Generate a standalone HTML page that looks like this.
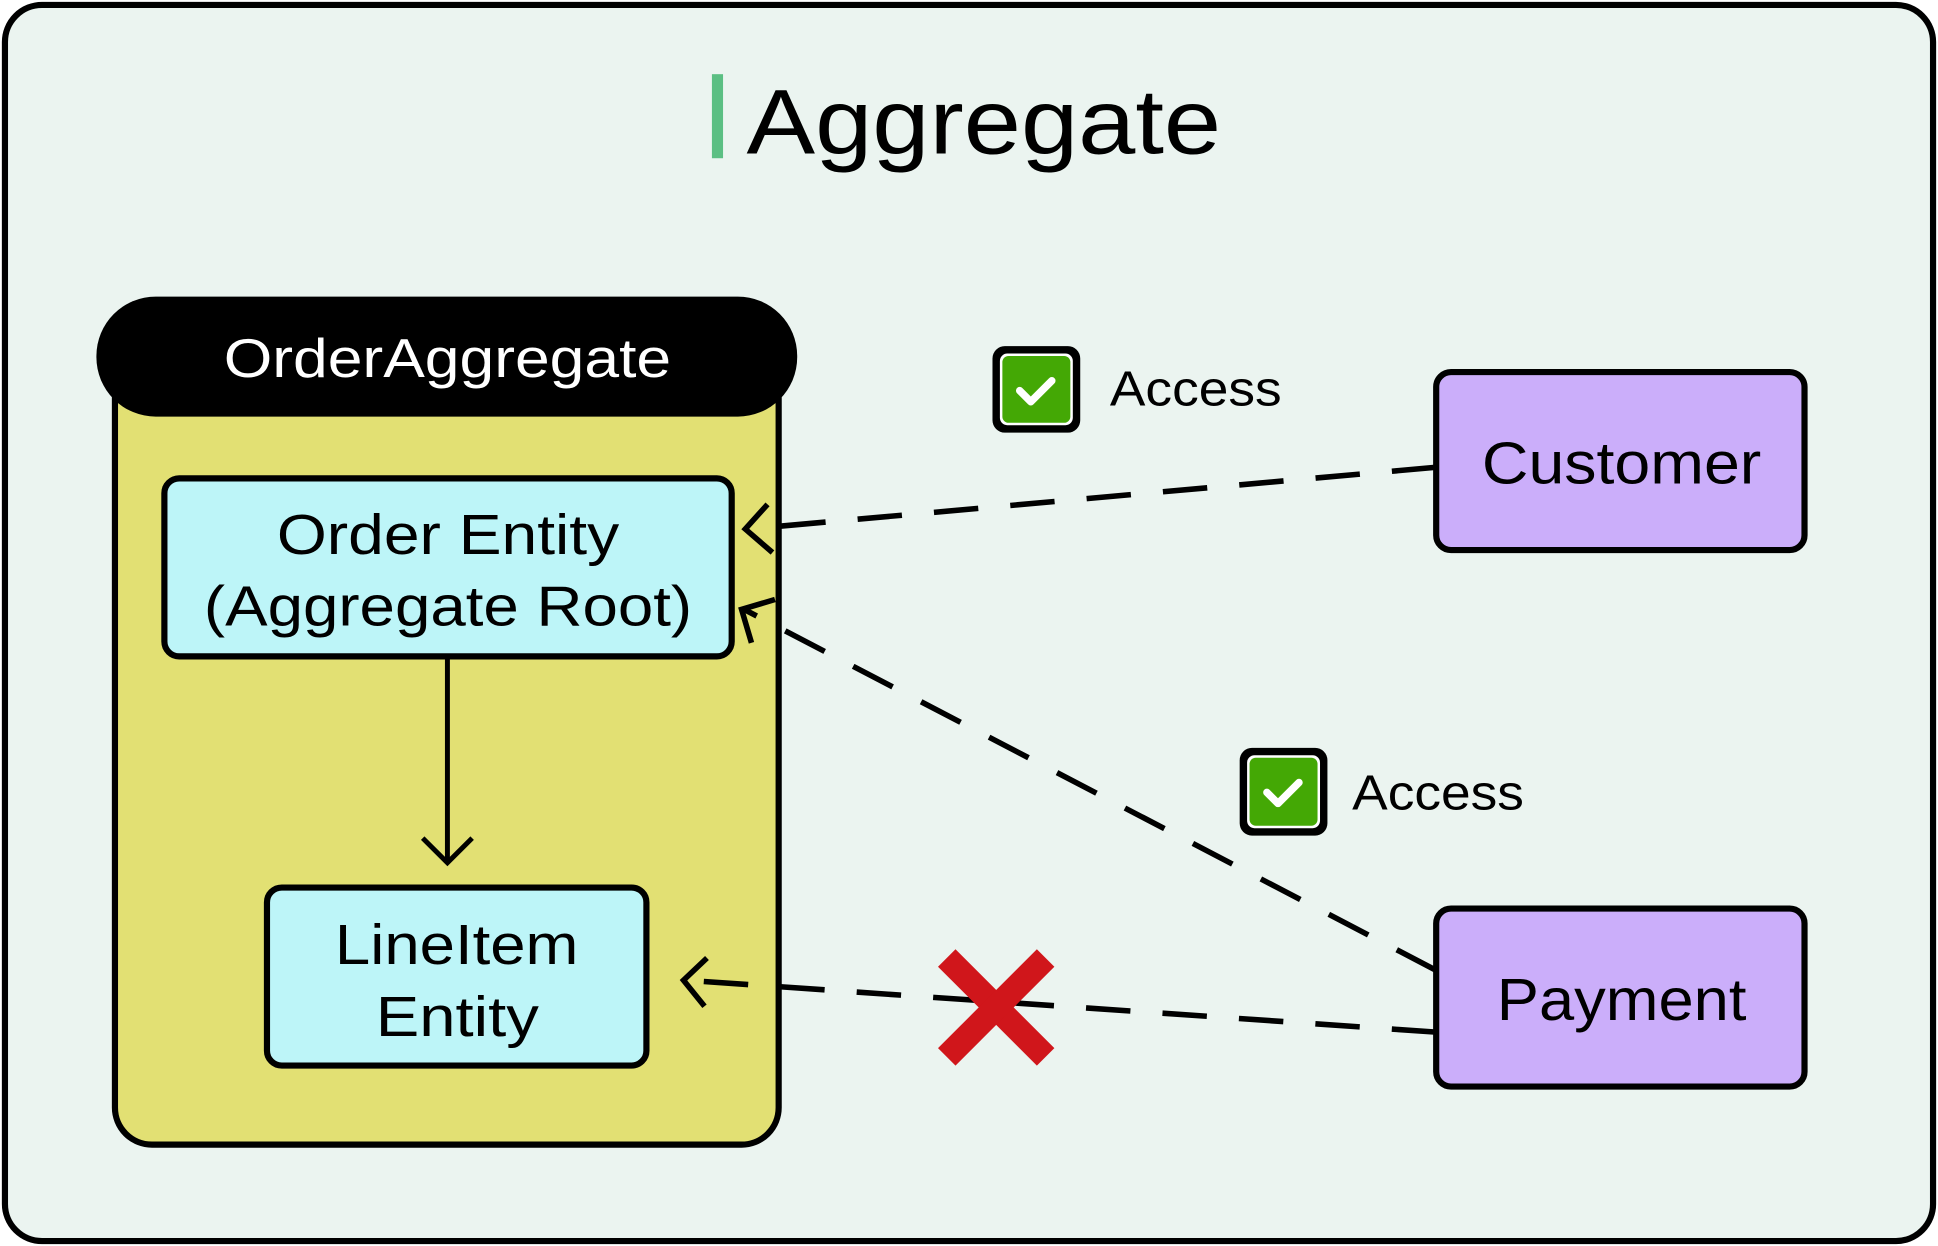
<!DOCTYPE html>
<html><head><style>html,body{margin:0;padding:0;background:#fff}svg{display:block}</style></head>
<body>
<svg width="1938" height="1246" viewBox="0 0 1568 1008" preserveAspectRatio="none" xmlns="http://www.w3.org/2000/svg" font-family="Liberation Sans, DejaVu Sans, sans-serif">
<rect x="4" y="4" width="1560" height="1000" rx="30" fill="#ebf4f0" stroke="#000" stroke-width="5"/>
<rect x="576" y="60" width="9" height="68" fill="#5bbf83"/>
<text x="604" y="124" font-size="74" fill="#000" textLength="384" lengthAdjust="spacingAndGlyphs">Aggregate</text>
<rect x="93" y="292" width="537" height="634" rx="30" fill="#e2e073" stroke="#000" stroke-width="5"/>
<rect x="78" y="240" width="567" height="97" rx="48" fill="#000"/>
<text x="181" y="305" font-size="44" fill="#fff" textLength="362" lengthAdjust="spacingAndGlyphs">OrderAggregate</text>
<rect x="133" y="387" width="459" height="144" rx="12" fill="#bdf5f8" stroke="#000" stroke-width="5"/>
<text x="224" y="448" font-size="46" textLength="277" lengthAdjust="spacingAndGlyphs">Order Entity</text>
<text x="165" y="506" font-size="46" textLength="395" lengthAdjust="spacingAndGlyphs">(Aggregate Root)</text>
<rect x="216" y="718" width="307" height="144" rx="12" fill="#bdf5f8" stroke="#000" stroke-width="5"/>
<text x="271" y="780" font-size="46" textLength="197" lengthAdjust="spacingAndGlyphs">LineItem</text>
<text x="304" y="838" font-size="46" textLength="132" lengthAdjust="spacingAndGlyphs">Entity</text>
<line x1="362" y1="531" x2="362" y2="698" stroke="#000" stroke-width="4"/>
<polyline points="342,678 362,698 382,678" fill="none" stroke="#000" stroke-width="4"/>
<rect x="1162" y="301" width="298" height="144" rx="12" fill="#cbaefa" stroke="#000" stroke-width="5"/>
<text x="1199" y="391" font-size="48" textLength="226" lengthAdjust="spacingAndGlyphs">Customer</text>
<rect x="1162" y="735" width="298" height="144" rx="12" fill="#cbaefa" stroke="#000" stroke-width="5"/>
<text x="1211" y="825" font-size="48" textLength="202" lengthAdjust="spacingAndGlyphs">Payment</text>
<g fill="none" stroke="#000" stroke-width="4.5" stroke-dasharray="36 26">
<line x1="1162" y1="378" x2="605" y2="428"/>
<line x1="1162" y1="785" x2="602" y2="493"/>
<line x1="1162" y1="835" x2="555" y2="793"/>
</g>
<g fill="none" stroke="#000" stroke-width="4.5">
<polyline points="621,408 603,428 625,447"/>
<polyline points="627,485 600,493 608,520"/>
<polyline points="572,775 553,793 570,814"/>
</g>
<g stroke="#d0161b" stroke-width="20">
<line x1="766" y1="775" x2="846" y2="855"/>
<line x1="846" y1="775" x2="766" y2="855"/>
</g>
<g>
<rect x="803" y="280" width="71" height="70" rx="10" fill="#000"/>
<rect x="809" y="286" width="59" height="58" rx="6" fill="#fff"/>
<rect x="811" y="288" width="55" height="54" rx="5" fill="#44a805"/>
<polyline points="825,316 834,325 851,308" fill="none" stroke="#fff" stroke-width="6" stroke-linecap="round" stroke-linejoin="round"/>
<text x="898" y="328" font-size="40" textLength="139" lengthAdjust="spacingAndGlyphs">Access</text>
</g>
<g>
<rect x="1003" y="605" width="71" height="71" rx="10" fill="#000"/>
<rect x="1009" y="611" width="59" height="59" rx="6" fill="#fff"/>
<rect x="1011" y="613" width="55" height="55" rx="5" fill="#44a805"/>
<polyline points="1025,641 1034,650 1051,633" fill="none" stroke="#fff" stroke-width="6" stroke-linecap="round" stroke-linejoin="round"/>
<text x="1094" y="655" font-size="40" textLength="139" lengthAdjust="spacingAndGlyphs">Access</text>
</g>
</svg>
</body></html>
